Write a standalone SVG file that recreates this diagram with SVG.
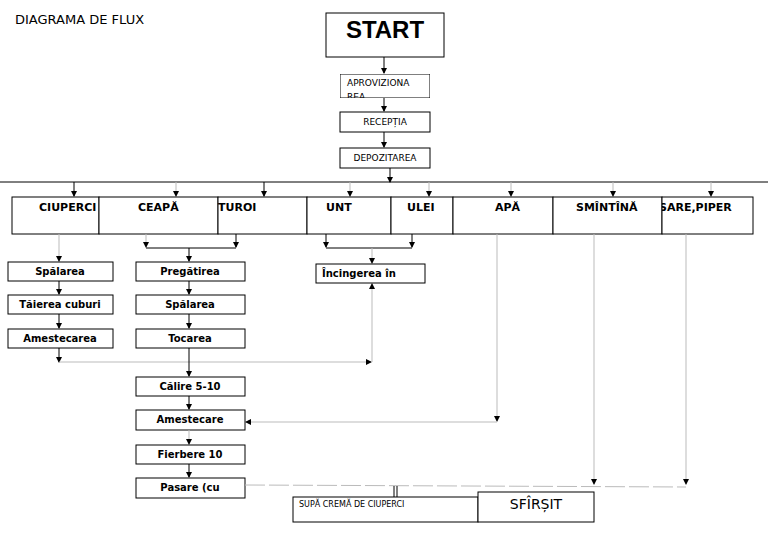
<svg xmlns="http://www.w3.org/2000/svg" width="768" height="543" viewBox="0 0 768 543">
<defs>
<marker id="a" markerWidth="6" markerHeight="6" refX="5" refY="3" orient="auto" markerUnits="userSpaceOnUse"><path d="M0,0 L6,3 L0,6 Z" fill="#000"/></marker>
<clipPath id="c1"><rect x="340" y="74" width="90" height="24"/></clipPath>
<clipPath id="c2"><rect x="662" y="197" width="91" height="37"/></clipPath>
</defs>
<style>
rect{fill:#fff;stroke:#000;stroke-width:1}
.t{font-family:"DejaVu Sans",sans-serif;font-size:10px}
.b{font-family:"DejaVu Sans",sans-serif;font-size:10px;font-weight:bold;text-anchor:middle}
.h{font-family:"DejaVu Sans",sans-serif;font-size:11px;font-weight:bold}
.l{stroke:#000;stroke-width:1;fill:none}
.g{stroke:#bbb;stroke-width:1;fill:none}
</style>
<rect width="768" height="543" style="stroke:none"/>
<text x="15" y="24" style="font-family:'DejaVu Sans',sans-serif;font-size:13px">DIAGRAMA DE FLUX</text>
<g id="n-start"><rect x="326" y="13" width="118" height="44"/><text x="385" y="38" style="font-family:'Liberation Sans',sans-serif;font-size:24px;font-weight:bold;text-anchor:middle">START</text></g>
<g id="n-aprov" clip-path="url(#c1)"><rect x="340" y="74" width="90" height="24"/><text class="t" x="347" y="86" style="font-size:9px">APROVIZIONA</text><text class="t" x="347" y="100" style="font-size:9px">REA</text></g>
<g id="n-rec"><rect x="340" y="112" width="90" height="20"/><text class="t" x="385" y="125" style="font-size:9px;text-anchor:middle">RECEPȚIA</text></g>
<g id="n-dep"><rect x="340" y="148" width="90" height="20"/><text class="t" x="385" y="161" style="font-size:9px;text-anchor:middle">DEPOZITAREA</text></g>
<g id="n-ing">
<rect x="12" y="197" width="87" height="37"/><rect x="99" y="197" width="119" height="37"/><rect x="218" y="197" width="89" height="37"/><rect x="307" y="197" width="84" height="37"/><rect x="391" y="197" width="62" height="37"/><rect x="453" y="197" width="100" height="37"/><rect x="553" y="197" width="109" height="37"/><rect x="662" y="197" width="91" height="37"/>
<text class="h" x="39" y="211">CIUPERCI</text><text class="h" x="138" y="211">CEAPĂ</text><text class="h" x="218" y="211">TUROI</text><text class="h" x="326" y="211">UNT</text><text class="h" x="407" y="211">ULEI</text><text class="h" x="495" y="211">APĂ</text><text class="h" x="576" y="211">SMÎNTÎNĂ</text><text class="h" x="659" y="211" clip-path="url(#c2)">SARE,PIPER</text>
</g>
<g id="n-left">
<rect x="8" y="262" width="105" height="19"/><text class="b" x="60" y="275">Spălarea</text>
<rect x="8" y="295" width="105" height="19"/><text class="b" x="60" y="308">Tăierea cuburi</text>
<rect x="8" y="329" width="105" height="19"/><text class="b" x="60" y="342">Amestecarea</text>
</g>
<g id="n-mid">
<rect x="136" y="262" width="109" height="19"/><text class="b" x="190" y="275">Pregătirea</text>
<rect x="136" y="295" width="109" height="19"/><text class="b" x="190" y="308">Spălarea</text>
<rect x="136" y="329" width="109" height="19"/><text class="b" x="190" y="342">Tocarea</text>
<rect x="136" y="377" width="109" height="19"/><text class="b" x="190" y="390">Călire 5-10</text>
<rect x="136" y="410" width="109" height="20"/><text class="b" x="190" y="423">Amestecare</text>
<rect x="136" y="445" width="109" height="19"/><text class="b" x="190" y="458">Fierbere 10</text>
<rect x="136" y="478" width="109" height="20"/><text class="b" x="190" y="491">Pasare (cu</text>
</g>
<g id="n-inc"><rect x="316" y="264" width="109" height="19"/><text class="h" x="322" y="277" style="font-size:10px">Încingerea în</text></g>
<g id="n-end">
<rect x="293" y="497" width="185" height="25"/><text class="t" x="299" y="507" style="font-size:8px">SUPĂ CREMĂ DE CIUPERCI</text>
<rect x="478" y="492" width="116" height="30"/><text x="536" y="509" style="font-family:'DejaVu Sans',sans-serif;font-size:14px;text-anchor:middle">SFÎRȘIT</text>
</g>
<g id="connectors">
<line class="l" x1="384" y1="57" x2="384" y2="73" marker-end="url(#a)"/>
<line class="l" x1="384" y1="98" x2="384" y2="111" marker-end="url(#a)"/>
<line class="l" x1="384" y1="132" x2="384" y2="147" marker-end="url(#a)"/>
<line class="l" x1="390" y1="168" x2="390" y2="182" marker-end="url(#a)"/>
<line class="l" x1="0" y1="182" x2="768" y2="182"/>
<line class="l" x1="74" y1="182" x2="74" y2="196" marker-end="url(#a)"/>
<line class="g" x1="176" y1="182" x2="176" y2="196" marker-end="url(#a)"/>
<line class="l" x1="264" y1="182" x2="264" y2="196" marker-end="url(#a)"/>
<line class="g" x1="350" y1="182" x2="350" y2="196" marker-end="url(#a)"/>
<line class="g" x1="429" y1="182" x2="429" y2="196" marker-end="url(#a)"/>
<line class="g" x1="511" y1="182" x2="511" y2="196" marker-end="url(#a)"/>
<line class="g" x1="613" y1="182" x2="613" y2="196" marker-end="url(#a)"/>
<line class="g" x1="711" y1="182" x2="711" y2="196" marker-end="url(#a)"/>
<line class="g" x1="59" y1="234" x2="59" y2="261" marker-end="url(#a)"/>
<line class="l" x1="59" y1="281" x2="59" y2="294" marker-end="url(#a)"/>
<line class="l" x1="59" y1="314" x2="59" y2="328" marker-end="url(#a)"/>
<line class="l" x1="59" y1="348" x2="59" y2="362" marker-end="url(#a)"/>
<line class="g" x1="59" y1="362" x2="371" y2="362" marker-end="url(#a)"/>
<line class="g" x1="372" y1="362" x2="372" y2="284" marker-end="url(#a)"/>
<line class="g" x1="146" y1="234" x2="146" y2="247" marker-end="url(#a)"/>
<line class="l" x1="236" y1="234" x2="236" y2="247" marker-end="url(#a)"/>
<line class="l" x1="146" y1="248" x2="236" y2="248"/>
<line class="l" x1="189" y1="248" x2="189" y2="261" marker-end="url(#a)"/>
<line class="l" x1="189" y1="281" x2="189" y2="294" marker-end="url(#a)"/>
<line class="l" x1="189" y1="314" x2="189" y2="328" marker-end="url(#a)"/>
<line class="l" x1="189" y1="348" x2="189" y2="376" marker-end="url(#a)"/>
<line class="l" x1="189" y1="396" x2="189" y2="409" marker-end="url(#a)"/>
<line class="g" x1="189" y1="430" x2="189" y2="444" marker-end="url(#a)"/>
<line class="l" x1="189" y1="464" x2="189" y2="477" marker-end="url(#a)"/>
<line class="l" x1="326" y1="234" x2="326" y2="247" marker-end="url(#a)"/>
<line class="l" x1="412" y1="234" x2="412" y2="247" marker-end="url(#a)"/>
<line class="l" x1="326" y1="248" x2="412" y2="248"/>
<line class="g" x1="372" y1="248" x2="372" y2="263" marker-end="url(#a)"/>
<line class="g" x1="497" y1="234" x2="497" y2="421" marker-end="url(#a)"/>
<line class="g" x1="497" y1="422" x2="246" y2="422" marker-end="url(#a)"/>
<line class="g" x1="594" y1="234" x2="594" y2="484" marker-end="url(#a)"/>
<line class="g" x1="686" y1="234" x2="686" y2="484" marker-end="url(#a)"/>
<line class="g" x1="245" y1="485" x2="686" y2="487" stroke-dasharray="20,4"/>
<line class="l" x1="394" y1="486" x2="394" y2="497"/>
<line class="l" x1="397" y1="486" x2="397" y2="497"/>
</g>
</svg>
